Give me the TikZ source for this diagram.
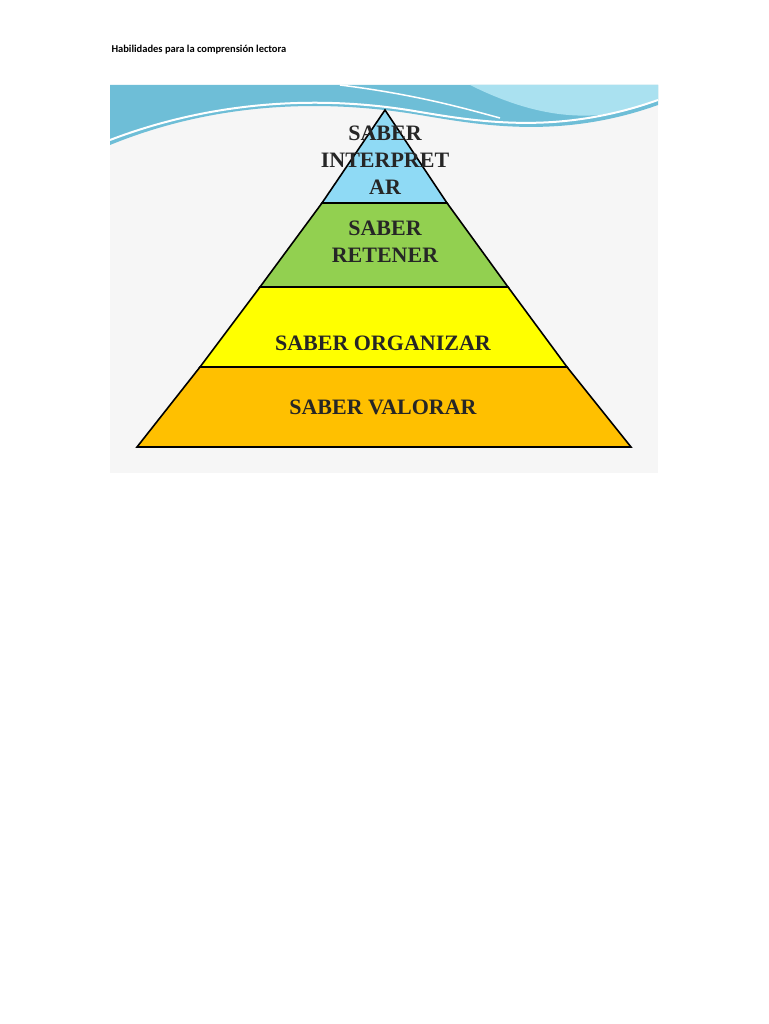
\documentclass[tikz,border=0pt]{standalone}
\usepackage{fontspec}
\setmainfont{Liberation Serif}
\newfontfamily\titlefont{Carlito}
\definecolor{wave1}{RGB}{110,190,215}
\definecolor{wave2}{RGB}{170,225,240}
\begin{document}
\begin{tikzpicture}[x=1pt,y=-1pt,
  lay/.style={draw=black,line width=1.6pt,line join=miter},
  lab/.style={font=\bfseries\fontsize{22}{27}\selectfont,align=center,text=black!85}]
\useasboundingbox (0,0) rectangle (768,1024);
\fill[white] (0,0) rectangle (768,1024);
\node[anchor=west,font=\titlefont\bfseries\fontsize{10.5}{12}\selectfont] (title) at (108,50) {Habilidades para la comprensión lectora};
\fill[gray!7] (110,85) rectangle (658,473);
% wave
\fill[wave1] (110,85) -- (658,85) -- (658,105) .. controls (560,140) and (480,125) .. (420,115) .. controls (330,100) and (220,100) .. (110,145) -- cycle;
\fill[wave2] (470,85) -- (658,85) -- (658,100) .. controls (600,125) and (540,120) .. (470,85) -- cycle;
\draw[white,line width=2pt] (110,140) .. controls (220,98) and (330,96) .. (420,112) .. controls (480,122) and (560,135) .. (658,100);
\draw[white,line width=1.5pt] (340,85) .. controls (420,95) and (470,110) .. (500,118);
% pyramid
\coordinate (A) at (385,110);
\filldraw[lay,fill={rgb,255:red,255;green,192;blue,0}] (200,367) -- (567,367) -- (631,447) -- (137,447) -- cycle;
\filldraw[lay,fill={rgb,255:red,255;green,255;blue,0}] (260,287) -- (508,287) -- (567,367) -- (200,367) -- cycle;
\filldraw[lay,fill={rgb,255:red,146;green,208;blue,80}] (322,203) -- (447,203) -- (508,287) -- (260,287) -- cycle;
\filldraw[lay,fill={rgb,255:red,143;green,218;blue,245}] (A) -- (447,203) -- (322,203) -- cycle;
\node[lab] (l1) at (385,160) {SABER\\INTERPRET\\AR};
\node[lab] (l2) at (385,242) {SABER\\RETENER};
\node[lab] (l3) at (383,343) {SABER ORGANIZAR};
\node[lab] (l4) at (383,407) {SABER VALORAR};
\end{tikzpicture}
\end{document}
